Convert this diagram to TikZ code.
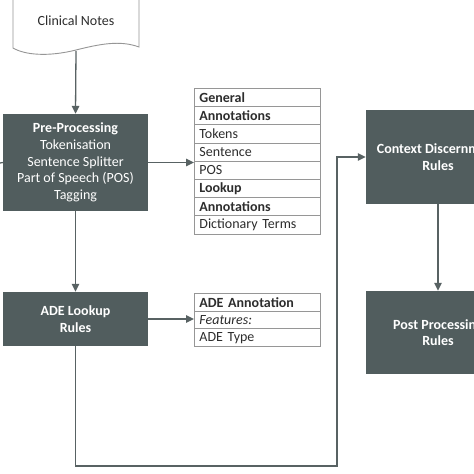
\documentclass[tikz,border=0pt]{standalone}
\usepackage{fontspec}
\setmainfont{Carlito}
\usetikzlibrary{arrows.meta}
\definecolor{boxfill}{RGB}{81,93,94}
\definecolor{linec}{RGB}{88,98,99}
\definecolor{tabline}{RGB}{150,150,150}
\definecolor{txt}{RGB}{45,45,45}
\tikzset{
  procbox/.style={fill=boxfill, draw=none, text=white, align=center,
    font=\fontsize{14}{16.7}\selectfont, inner sep=0pt},
  rowcell/.style={draw=tabline, line width=0.8pt, fill=white, text=txt,
    minimum width=126pt, text width=116pt, align=left, inner xsep=5pt,
    inner ysep=0pt, anchor=north west, font=\fontsize{14}{15}\selectfont},
  flow/.style={draw=linec, line width=1.3pt, -{Triangle[length=8pt,width=7.5pt]}},
  plain/.style={draw=linec, line width=1.3pt},
  docshape/.style={draw=tabline, line width=0.9pt, fill=white}
}
\begin{document}
\begin{tikzpicture}[x=1pt,y=-1pt]
\useasboundingbox (0,0) rectangle (474,474);
\clip (0,0) rectangle (474,474);
\fill[white] (0,0) rectangle (474,474);

% Clinical notes document
\path[docshape] (13,-5) -- (13,48) .. controls (25,55) and (48,57) .. (76,50)
   .. controls (100,44) and (120,40) .. (139,47) -- (139,-5) -- cycle;
\node[text=txt, font=\fontsize{14}{16}\selectfont] (notes) at (76,21) {Clinical Notes};
\coordinate (docb) at (76,51);

% process boxes
\node[procbox, minimum width=145pt, minimum height=97pt] (pre) at (75.5,162.5)
  {\textbf{Pre-Processing}\\Tokenisation\\Sentence Splitter\\Part of Speech (POS)\\Tagging};
\node[procbox, minimum width=145pt, minimum height=54pt] (ade) at (75.5,319)
  {\textbf{ADE Lookup}\\\textbf{Rules}};
\node[procbox, minimum width=144pt, minimum height=94pt] (ctx) at (438,157)
  {\textbf{Context Discernment}\\\textbf{Rules}};
\node[procbox, minimum width=144pt, minimum height=83pt] (post) at (438,332.5)
  {\textbf{Post Processing}\\\textbf{Rules}};

% general annotations table
\node[rowcell, minimum height=18.2pt] (g1) at (194,88) {\textbf{General}};
\node[rowcell, minimum height=18.2pt] (g2) at (194,106.2) {\textbf{Annotations}};
\node[rowcell, minimum height=18.2pt] (g3) at (194,124.4) {Tokens};
\node[rowcell, minimum height=18.2pt] (g4) at (194,142.6) {Sentence};
\node[rowcell, minimum height=18.2pt] (g5) at (194,160.8) {POS};
\node[rowcell, minimum height=18.2pt] (g6) at (194,179.0) {\textbf{Lookup}};
\node[rowcell, minimum height=18.2pt] (g7) at (194,197.2) {\textbf{Annotations}};
\node[rowcell, minimum height=18.2pt] (g8) at (194,215.4) {Dictionary Terms};

% ADE annotation table
\node[rowcell, minimum height=17.7pt] (a1) at (194,293) {\textbf{ADE Annotation}};
\node[rowcell, minimum height=17.7pt] (a2) at (194,310.7) {\textit{Features:}};
\node[rowcell, minimum height=17.7pt] (a3) at (194,328.4) {ADE Type};

% connectors
\coordinate (lin) at (0,163);
\draw[plain] (lin) -- (pre.west);
\draw[flow] (docb) -- (pre.north);
\draw[flow] (pre.south) -- (ade.north);
\draw[flow] (pre.east) -- (pre.east -| g1.west);
\draw[flow] (ade.east) -- (ade.east -| a1.west);
\coordinate (br) at (337,466);
\draw[flow] (ade.south) |- (br) |- (ctx.west);
\draw[flow] (ctx.south) -- (post.north);
\end{tikzpicture}
\end{document}
